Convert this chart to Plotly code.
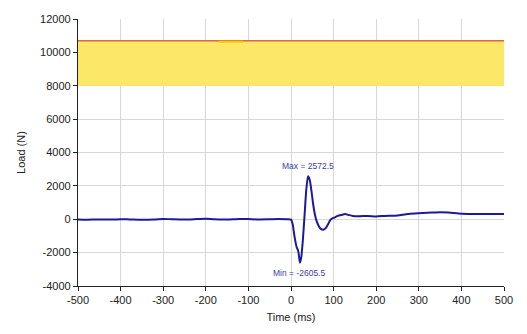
import plotly.graph_objects as go

# Load-time curve
times = [-500, -480, -450, -420, -400, -380, -350, -320, -300, -280, -250, -220, -200, -180,
         -150, -120, -100, -80, -50, -30, -10, 0, 4, 8, 13, 17, 21, 24, 28, 32, 36, 40, 44,
         48, 52, 56, 60, 65, 70, 76, 82, 88, 92, 97, 102, 110, 118, 127, 135, 145, 160, 180,
         200, 220, 250, 270, 290, 310, 330, 350, 370, 400, 430, 460, 500]
loads = [-20, -30, -10, -20, 0, -10, -30, -10, 20, 0, -20, 10, 30, 0,
         -10, 20, 10, -10, 0, 10, 0, -20, -300, -1000, -1650, -1900, -2605.5, -2300, -1200, 300, 1800, 2572.5, 2350,
         1700, 900, 300, -100, -400, -580, -630, -520, -250, -50, 50, 100, 200, 250, 310, 260, 200, 180, 200,
         170, 200, 230, 300, 350, 380, 400, 420, 400, 330, 320, 320, 310]

# Tolerance band
band_x = [-500, 500]
band_lower = 8000
band_upper = 10700

# Extremes
max_time, max_load = 40, 2572.5
min_time, min_load = 21, -2605.5

x_ticks = [-500, -400, -300, -200, -100, 0, 100, 200, 300, 400, 500]
y_ticks = [-4000, -2000, 0, 2000, 4000, 6000, 8000, 10000, 12000]

fig = go.Figure()

fig.add_trace(go.Scatter(
    x=[band_x[0], band_x[1], band_x[1], band_x[0], band_x[0]],
    y=[band_lower, band_lower, band_upper, band_upper, band_lower],
    fill="toself", fillcolor="#fde766", mode="lines",
    line=dict(width=0, color="#fde766"), hoverinfo="skip", showlegend=False))

fig.add_trace(go.Scatter(
    x=band_x, y=[band_upper, band_upper], mode="lines",
    line=dict(color="#e2643a", width=1.6), showlegend=False))

fig.add_trace(go.Scatter(
    x=[-170, -112], y=[band_upper - 60, band_upper - 60], mode="lines",
    line=dict(color="#f5c800", width=2), showlegend=False))

fig.add_trace(go.Scatter(
    x=times, y=loads, mode="lines", line_shape="spline",
    line=dict(color="#1a1a9a", width=2, smoothing=0.6), showlegend=False))

fig.add_annotation(x=max_time, y=max_load, text=f"Max = {max_load}", showarrow=False,
                   yshift=10, font=dict(size=8.5, color="#3c3ca8", family="Liberation Sans"))
fig.add_annotation(x=min_time - 2, y=min_load, text=f"Min = {min_load}", showarrow=False,
                   yshift=-10, font=dict(size=8.5, color="#3c3ca8", family="Liberation Sans"))

axis_font = dict(size=11, color="#222222", family="Liberation Sans")

fig.update_layout(
    width=527, height=334,
    margin=dict(l=78, r=23, t=19, b=44),
    paper_bgcolor="white", plot_bgcolor="white",
    xaxis=dict(range=[-500, 500], tickvals=x_ticks, ticktext=[str(v) for v in x_ticks],
               showgrid=True, gridcolor="#d8d8d8", gridwidth=1,
               showline=True, linecolor="#222222", linewidth=1.2,
               ticks="outside", ticklen=4, tickcolor="#222222",
               tickfont=axis_font, zeroline=False,
               title=dict(text="Time (ms)", font=dict(size=11, color="#222222", family="Liberation Sans"), standoff=8)),
    yaxis=dict(range=[-4000, 12000], tickvals=y_ticks, ticktext=[str(v) for v in y_ticks],
               showgrid=True, gridcolor="#d8d8d8", gridwidth=1,
               showline=True, linecolor="#222222", linewidth=1.2,
               ticks="outside", ticklen=4, tickcolor="#222222",
               tickfont=axis_font, zeroline=False,
               title=dict(text="Load (N)", font=dict(size=11, color="#222222", family="Liberation Sans"), standoff=12)),
)

fig.write_html("out.html")
